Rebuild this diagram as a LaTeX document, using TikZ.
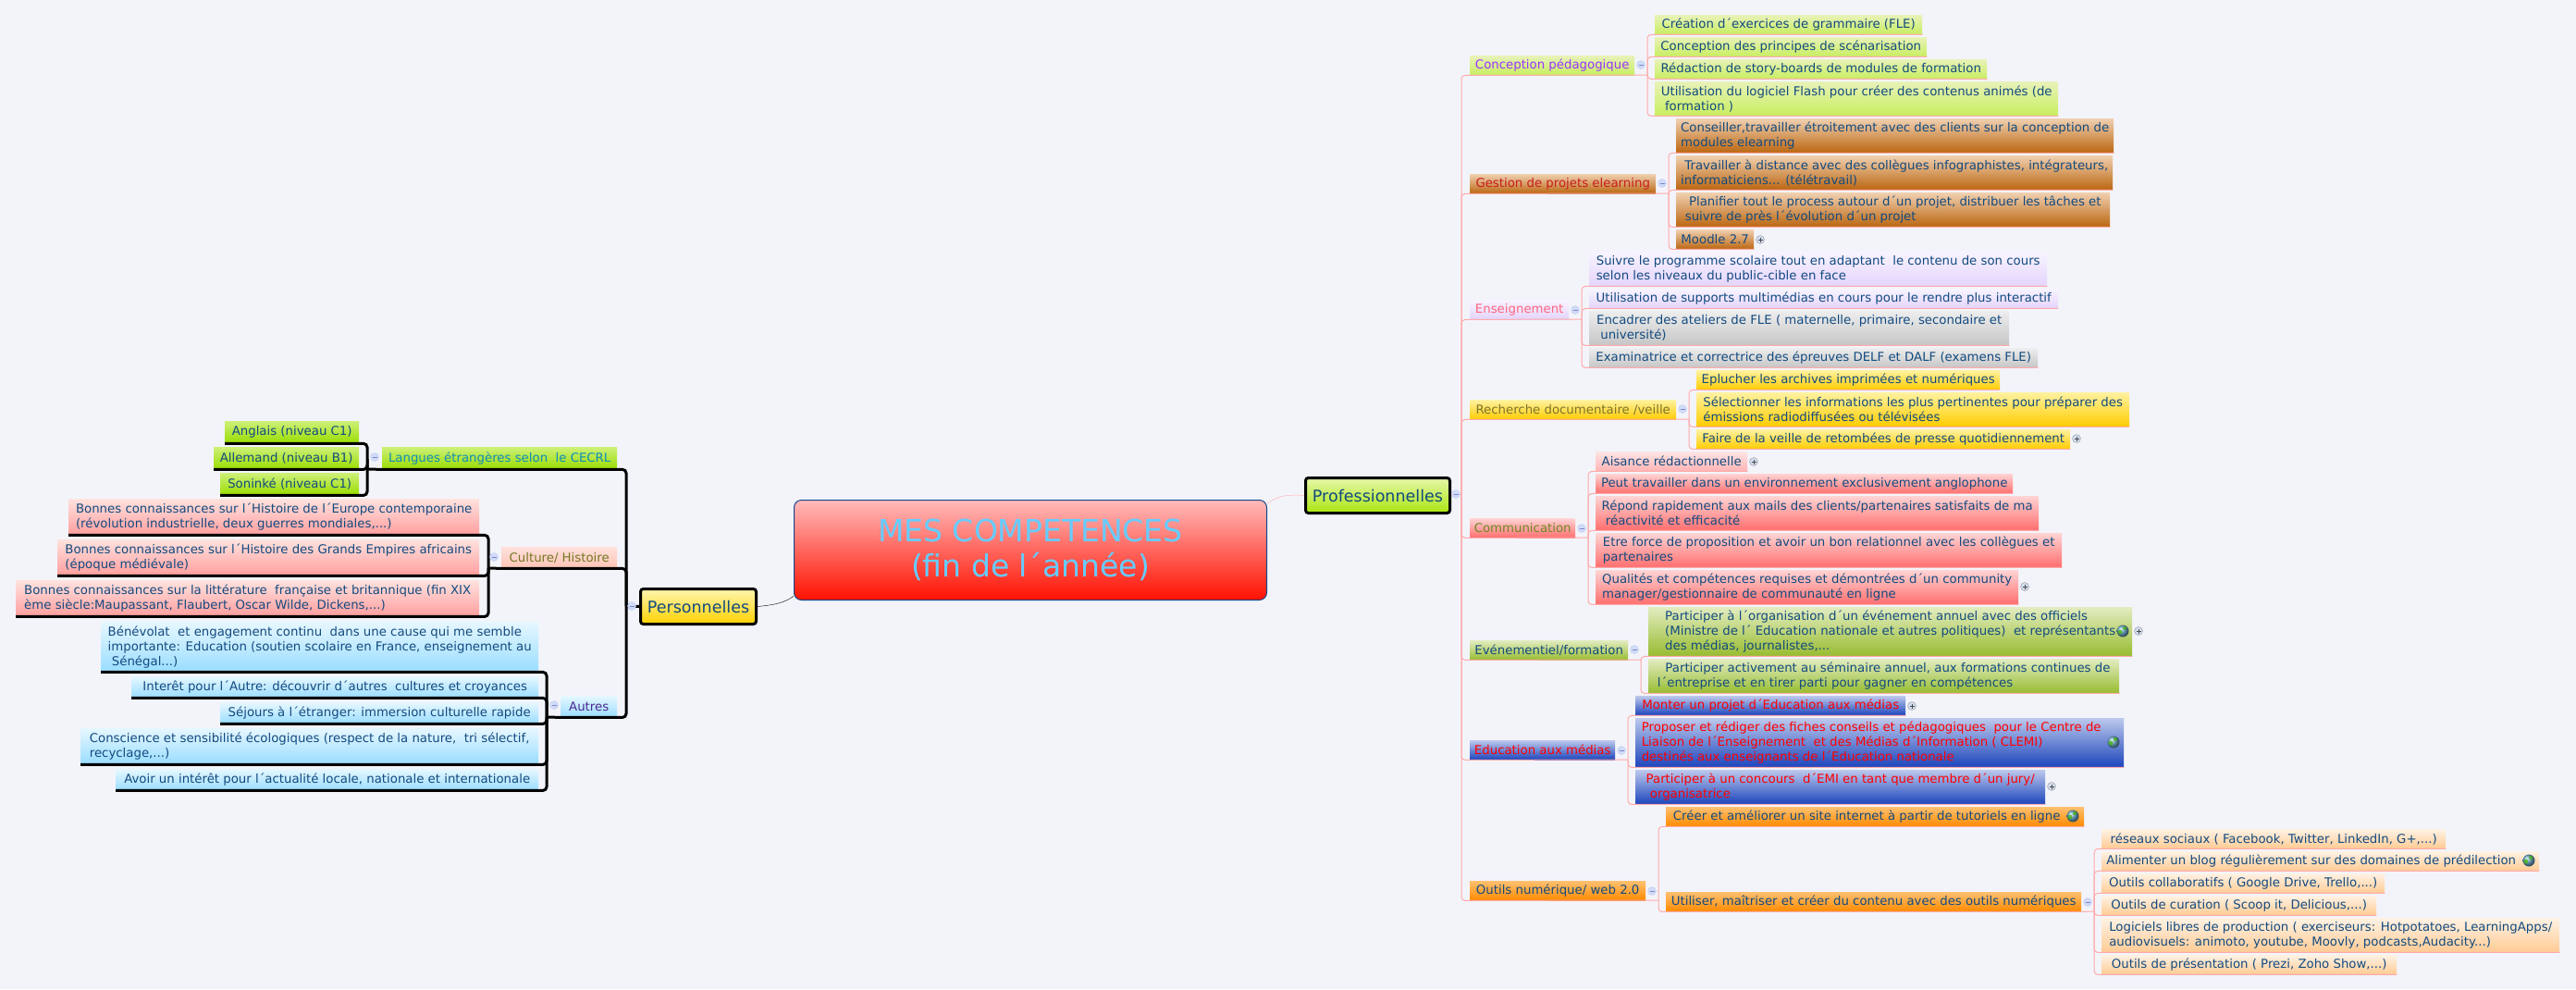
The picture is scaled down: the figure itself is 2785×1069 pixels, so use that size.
\documentclass[tikz,border=0pt]{standalone}
\usepackage{fontspec}
\setmainfont{DejaVu Sans}
\definecolor{bgcol}{HTML}{F3F4FA}
\definecolor{leafblue}{HTML}{124A80}
\definecolor{pinkedge}{HTML}{FFAAAA}
\tikzset{
  wh/.style 2 args={minimum width=#1pt,minimum height=#2pt},
  grad/.style 2 args={top color={rgb,255:red,#1},bottom color={rgb,255:red,#2}},
  mapbox/.style={anchor=north west,inner sep=0pt,align=left,text=leafblue,font=\fontsize{13.3}{16}\selectfont},
  langbox/.style={mapbox,grad={205;green,240;blue,120}{153;green,221;blue,0}},
  cultbox/.style={mapbox,grad={255;green,226;blue,222}{255;green,158;blue,158}},
  autrebox/.style={mapbox,grad={230;green,247;blue,255}{153;green,221;blue,255}},
  consbox/.style={mapbox,grad={232;green,242;blue,184}{200;green,238;blue,96}},
  gestbox/.style={mapbox,grad={240;green,208;blue,176}{187;green,102;blue,16}},
  ensbox/.style={mapbox,grad={248;green,244;blue,255}{228;green,212;blue,252}},
  greybox/.style={mapbox,grad={237;green,237;blue,237}{198;green,198;blue,198}},
  rechbox/.style={mapbox,grad={255;green,242;blue,160}{255;green,204;blue,0}},
  commbox/.style={mapbox,grad={255;green,212;blue,212}{255;green,110;blue,110}},
  aisbox/.style={mapbox,grad={255;green,228;blue,228}{255;green,180;blue,180}},
  evenbox/.style={mapbox,grad={226;green,236;blue,192}{152;green,188;blue,48}},
  edubox/.style={mapbox,text=red,grad={188;green,200;blue,236}{28;green,68;blue,188}},
  outbox/.style={mapbox,grad={255;green,192;blue,112}{255;green,138;blue,0}},
  paleout/.style={mapbox,grad={255;green,242;blue,228}{255;green,203;blue,148}},
  blackbox/.style={mapbox,draw=black,line width=3pt,rounded corners=3pt},
  blackline/.style={draw=black,line width=3pt,rounded corners=4pt},
  pinkline/.style={draw=pinkedge,line width=1pt,rounded corners=4pt},
  minusbtn/.style={circle,draw={rgb,255:red,190;green,205;blue,240},fill={rgb,255:red,208;green,220;blue,248},minimum size=9pt,inner sep=0pt,
    path picture={\draw[blue!40!gray!70,line width=0.8pt] (path picture bounding box.center)+(-2.5pt,0)--+(2.5pt,0);}},
  plusbtn/.style={circle,draw=black!40,fill={rgb,255:red,208;green,220;blue,240},minimum size=9pt,inner sep=0pt,
    path picture={\draw[black!70,line width=0.8pt] (path picture bounding box.center)+(-2.5pt,0)--+(2.5pt,0) (path picture bounding box.center)+(0,-2.5pt)--+(0,2.5pt);}},
  globe/.style={circle,minimum size=13pt,inner sep=0pt,ball color={rgb,255:red,110;green,170;blue,205},
    path picture={\fill[green!45!olive,opacity=0.7] (path picture bounding box.center)+(-3pt,-1pt) circle (2.5pt) +(2pt,3pt) circle (2pt);}},
}
\begin{document}
\begin{tikzpicture}[x=1pt,y=-1pt]
\useasboundingbox (0,0) rectangle (2785,1069);
\fill[bgcol] (0,0) rectangle (2785,1069);

% centre
\node[mapbox,wh={511}{108},rounded corners=8pt,draw={rgb,255:red,20;green,70;blue,140},line width=1pt,grad={255;green,187;blue,187}{255;green,17;blue,0},text={rgb,255:red,102;green,204;blue,255},align=center,font=\fontsize{33}{37.5}\selectfont] (central) at (858,540) {MES COMPETENCES\\(fin de l´année)};
\node[blackbox,wh={125}{38},grad={255;green,246;blue,176}{255;green,208;blue,0},font=\fontsize{17.5}{20}\selectfont] (pers) at (691,635) {Personnelles};
\node[blackbox,wh={156}{38},grad={230;green,247;blue,168}{170;green,230;blue,16},font=\fontsize{17.5}{20}\selectfont] (prof) at (1410,515) {Professionnelles};
\draw[black] (pers.east) .. controls (835,654) and (848,652) .. (central.191);
\draw[pinkedge] (prof.west) .. controls (1392,534) and (1380,536) .. (central.11);

% personnelles
\coordinate (persj) at (677,655);
\node[langbox,wh={145}{24}] (angl) at (243,455) {Anglais (niveau C1)};
\node[langbox,wh={157}{24}] (alle) at (231,483) {Allemand (niveau B1)};
\node[langbox,wh={150}{24}] (soni) at (238,511) {Soninké (niveau C1)};
\node[langbox,wh={254}{24},text={rgb,255:red,15;green,140;blue,185}] (lang) at (413,483) {Langues étrangères selon~ le CECRL};
\coordinate (langj) at (397,507);
\node[cultbox,wh={444}{39}] (hist) at (74,539) {Bonnes connaissances sur l´Histoire de l´Europe contemporaine\\(révolution industrielle, deux guerres mondiales,...)};
\node[cultbox,wh={456}{39}] (empi) at (62,583) {Bonnes connaissances sur l´Histoire des Grands Empires africains\\(époque médiévale)};
\node[cultbox,wh={501}{39}] (litt) at (17,627) {Bonnes connaissances sur la littérature~ française et britannique (fin XIX\\ème siècle:Maupassant, Flaubert, Oscar Wilde, Dickens,...)};
\node[cultbox,wh={125}{23},grad={255;green,224;blue,220}{255;green,196;blue,180},text={rgb,255:red,115;green,120;blue,35}] (cult) at (542,591) {Culture/ Histoire};
\coordinate (cultj) at (528,614);
\node[autrebox,wh={473}{54}] (bene) at (109,672) {Bénévolat~ et engagement continu~ dans une cause qui me semble\\importante: Education (soutien scolaire en France, enseignement au\\~Sénégal...)};
\node[autrebox,wh={440}{23}] (inte) at (142,731) {Interêt pour l´Autre: découvrir d´autres~ cultures et croyances};
\node[autrebox,wh={344}{23}] (sejo) at (238,759) {Séjours à l´étranger: immersion culturelle rapide};
\node[autrebox,wh={495}{39}] (cons) at (87,787) {Conscience et sensibilité écologiques (respect de la nature,~ tri sélectif,\\recyclage,...)};
\node[autrebox,wh={457}{23}] (avoi) at (125,831) {Avoir un intérêt pour l´actualité locale, nationale et internationale};
\node[autrebox,wh={61}{23},text={rgb,255:red,75;green,40;blue,145}] (autr) at (606,752) {Autres};
\coordinate (autrj) at (591,775);

\foreach \kid in {angl,alle,soni} \draw[blackline] (\kid.south west) -| (langj);
\foreach \kid in {hist,empi,litt} \draw[blackline] (\kid.south west) -| (cultj);
\foreach \kid in {bene,inte,sejo,cons,avoi} \draw[blackline] (\kid.south west) -| (autrj);
\draw[blackline] (langj) -- (lang.south west) -| (persj);
\draw[blackline] (cultj) -- (cult.south west) -| (persj);
\draw[blackline] (autrj) -- (autr.south west) -| (persj);
\draw[blackline] (persj) -- (pers.west);

% professionnelles
\coordinate (profj) at (1580,534);
\node[consbox,wh={178}{21},text={rgb,255:red,153;green,51;blue,255}] (conc) at (1589,60) {Conception pédagogique};
\coordinate (concj) at (1781,81);
\node[consbox,wh={289}{21}] (crea) at (1789,16) {Création d´exercices de grammaire (FLE)};
\node[consbox,wh={294}{21}] (scen) at (1789,40) {Conception des principes de scénarisation};
\node[consbox,wh={359}{21}] (stor) at (1789,64) {Rédaction de story-boards de modules de formation};
\node[consbox,wh={436}{37}] (flash) at (1789,88) {Utilisation du logiciel Flash pour créer des contenus animés (de\\~formation )};
\node[gestbox,wh={201}{21},text={rgb,255:red,200;green,30;blue,30}] (gest) at (1589,188) {Gestion de projets elearning};
\coordinate (gestj) at (1804,209);
\node[gestbox,wh={473}{37}] (consl) at (1812,128) {Conseiller,travailler étroitement avec des clients sur la conception de\\modules elearning};
\node[gestbox,wh={472}{37}] (dist) at (1812,168) {~Travailler à distance avec des collègues infographistes, intégrateurs,\\informaticiens... (télétravail)};
\node[gestbox,wh={469}{37}] (plan) at (1812,208) {~Planifier tout le process autour d´un projet, distribuer les tâches et\\suivre de près l´évolution d´un projet};
\node[gestbox,wh={84}{21}] (mood) at (1812,248) {Moodle 2.7};
\node[ensbox,wh={107}{21},text={rgb,255:red,255;green,102;blue,128}] (ensg) at (1589,324) {Enseignement};
\coordinate (ensgj) at (1710,345);
\node[ensbox,wh={495}{37}] (suiv) at (1718,272) {Suivre le programme scolaire tout en adaptant~ le contenu de son cours\\selon les niveaux du public-cible en face};
\node[ensbox,wh={507}{21}] (supp) at (1718,312) {Utilisation de supports multimédias en cours pour le rendre plus interactif};
\node[greybox,wh={454}{37}] (atel) at (1718,336) {Encadrer des ateliers de FLE ( maternelle, primaire, secondaire et\\~université)};
\node[greybox,wh={485}{21}] (exam) at (1718,376) {Examinatrice et correctrice des épreuves DELF et DALF (examens FLE)};
\node[rechbox,wh={223}{21},text={rgb,255:red,125;green,115;blue,45}] (rech) at (1589,432) {Recherche documentaire /veille};
\coordinate (rechj) at (1826,453);
\node[rechbox,wh={328}{21}] (eplu) at (1834,400) {Eplucher les archives imprimées et numériques};
\node[rechbox,wh={468}{37}] (sele) at (1834,424) {Sélectionner les informations les plus pertinentes pour préparer des\\émissions radiodiffusées ou télévisées};
\node[rechbox,wh={404}{21}] (veil) at (1834,464) {Faire de la veille de retombées de presse quotidiennement};
\node[commbox,wh={114}{21},text={rgb,255:red,110;green,135;blue,35}] (comm) at (1589,560) {Communication};
\coordinate (commj) at (1717,581);
\node[aisbox,wh={164}{21}] (aisa) at (1725,488) {Aisance rédactionnelle};
\node[commbox,wh={451}{21}] (angp) at (1725,512) {Peut travailler dans un environnement exclusivement anglophone};
\node[commbox,wh={479}{37}] (repo) at (1725,536) {Répond rapidement aux mails des clients/partenaires satisfaits de ma\\~réactivité et efficacité};
\node[commbox,wh={504}{37}] (forc) at (1725,576) {Etre force de proposition et avoir un bon relationnel avec les collègues et\\partenaires};
\node[commbox,wh={457}{37}] (qual) at (1725,616) {Qualités et compétences requises et démontrées d´un community\\manager/gestionnaire de communauté en ligne};
\node[evenbox,wh={171}{21}] (even) at (1589,692) {Evénementiel/formation};
\coordinate (evenj) at (1774,713);
\node[evenbox,wh={523}{53}] (orga) at (1782,656) {Participer à l´organisation d´un événement annuel avec des officiels\\(Ministre de l´ Education nationale et autres politiques)~ et représentants\hspace*{24pt}\\des médias, journalistes,...};
\node[evenbox,wh={509}{37}] (semi) at (1782,712) {~~Participer activement au séminaire annuel, aux formations continues de\\l´entreprise et en tirer parti pour gagner en compétences};
\node[edubox,wh={157}{21}] (educ) at (1589,800) {Education aux médias};
\coordinate (educj) at (1760,821);
\node[edubox,wh={292}{21}] (mont) at (1768,752) {Monter un projet d´Education aux médias};
\node[edubox,wh={528}{53}] (prop) at (1768,776) {Proposer et rédiger des fiches conseils et pédagogiques~ pour le Centre de\hspace*{18pt}\\Liaison de l´Enseignement~ et des Médias d´Information ( CLEMI)\\destinés aux enseignants de l´Education nationale};
\node[edubox,wh={443}{37}] (conc2) at (1768,832) {Participer à un concours~ d´EMI en tant que membre d´un jury/\\~organisatrice};
\node[outbox,wh={190}{21}] (outi) at (1589,952) {Outils numérique/ web 2.0};
\coordinate (outij) at (1793,973);
\node[outbox,wh={452}{21}] (site) at (1801,872) {Créer et améliorer un site internet à partir de tutoriels en ligne\hspace*{18pt}};
\node[outbox,wh={449}{21}] (util) at (1801,964) {Utiliser, maîtriser et créer du contenu avec des outils numériques};
\coordinate (utilj) at (2264,985);
\node[paleout,wh={372}{21}] (rese) at (2272,896) {réseaux sociaux ( Facebook, Twitter, LinkedIn, G+,...)};
\node[paleout,wh={473}{21}] (blog) at (2272,920) {Alimenter un blog régulièrement sur des domaines de prédilection\hspace*{20pt}};
\node[paleout,wh={306}{21}] (coll) at (2272,944) {Outils collaboratifs ( Google Drive, Trello,...)};
\node[paleout,wh={297}{21}] (cura) at (2272,968) {Outils de curation ( Scoop it, Delicious,...)};
\node[paleout,wh={495}{37}] (libr) at (2272,992) {Logiciels libres de production ( exerciseurs: Hotpotatoes, LearningApps/\\audiovisuels: animoto, youtube, Moovly, podcasts,Audacity...)};
\node[paleout,wh={319}{21}] (pres) at (2272,1032) {Outils de présentation ( Prezi, Zoho Show,...)};

\foreach \kid in {crea,scen,stor,flash} \draw[pinkline] (\kid.south east) -| (concj);
\foreach \kid in {consl,dist,plan,mood} \draw[pinkline] (\kid.south east) -| (gestj);
\foreach \kid in {suiv,supp,atel,exam} \draw[pinkline] (\kid.south east) -| (ensgj);
\foreach \kid in {eplu,sele,veil} \draw[pinkline] (\kid.south east) -| (rechj);
\foreach \kid in {aisa,angp,repo,forc,qual} \draw[pinkline] (\kid.south east) -| (commj);
\foreach \kid in {orga,semi} \draw[pinkline] (\kid.south east) -| (evenj);
\foreach \kid in {mont,prop,conc2} \draw[pinkline] (\kid.south east) -| (educj);
\foreach \kid in {site,util} \draw[pinkline] (\kid.south east) -| (outij);
\foreach \kid in {rese,blog,coll,cura,libr,pres} \draw[pinkline] (\kid.south east) -| (utilj);
\draw[pinkline] (utilj) -- (util.south east);
\draw[pinkline] (concj) -- (conc.south west) -| (profj);
\draw[pinkline] (gestj) -- (gest.south west) -| (profj);
\draw[pinkline] (ensgj) -- (ensg.south west) -| (profj);
\draw[pinkline] (rechj) -- (rech.south west) -| (profj);
\draw[pinkline] (commj) -- (comm.south west) -| (profj);
\draw[pinkline] (evenj) -- (even.south west) -| (profj);
\draw[pinkline] (educj) -- (educ.south west) -| (profj);
\draw[pinkline] (outij) -- (outi.south west) -| (profj);
\draw[pinkline] (prof.east) -- (profj);

% boutons
\foreach \name/\px/\py in {bpers/683/655,blang/405/494,bcult/534/602,bautr/599/762,bprof/1574/534,bconc/1774/70,bgest/1797/198,bensg/1703/335,brech/1819/442,bcomm/1710/571,beven/1767/702,beduc/1753/811,bouti/1786/963,butil/2257/975}
  \node[minusbtn] (\name) at (\px,\py) {};
\foreach \name/\px/\py in {bmood/1903/259,bveil/2245/474,baisa/1896/499,bqual/2189/634,borga/2312/682,bmont/2067/763,bconc2/2218/850}
  \node[plusbtn] (\name) at (\px,\py) {};
\foreach \name/\px/\py in {gorga/2295/682,gprop/2285/802,gsite/2241/882,gblog/2734/930}
  \node[globe] (\name) at (\px,\py) {};
\end{tikzpicture}
\end{document}
